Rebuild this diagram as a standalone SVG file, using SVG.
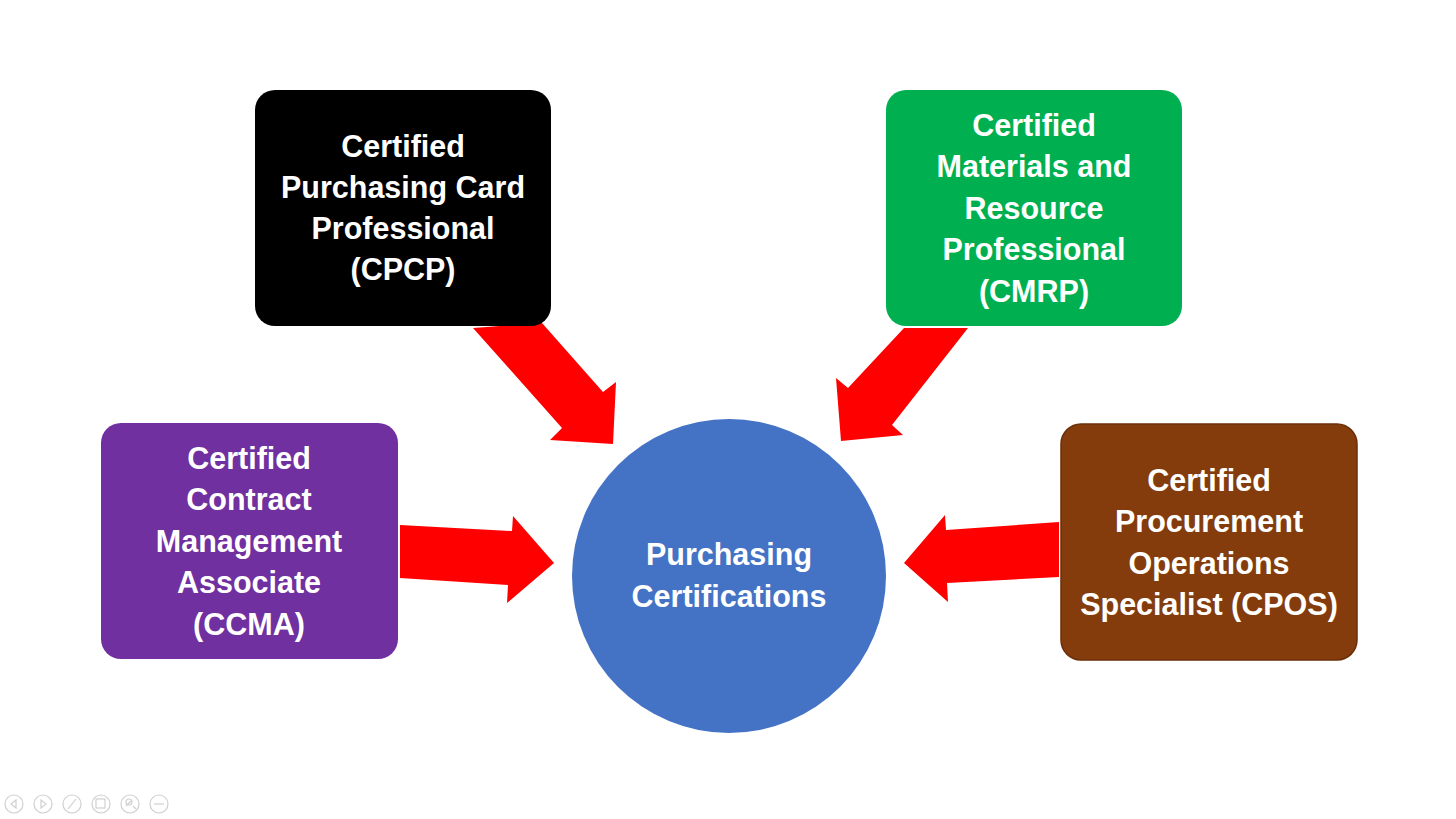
<svg xmlns="http://www.w3.org/2000/svg" width="1456" height="819" viewBox="0 0 1456 819">
<style>
.t{font-family:"Liberation Sans",Arial,sans-serif;font-weight:bold;font-size:30.5px;fill:#fff;text-anchor:middle}
.a{fill:#ff0000}
.c{fill:none;stroke:#d0d0d0;stroke-width:1.2}
</style>
<rect width="1456" height="819" fill="#fff"/>
<g id="connectors">
<polygon class="a" points="473,328 542,323 603,392 616,382 613,444 550,440 562,428"/>
<polygon class="a" points="968,328 904,328 848,388 836,378 841,441 903,435 892,425"/>
<polygon class="a" points="400,525 512,531 513,516 554,563 507,603 508,585 400,578"/>
<polygon class="a" points="1059,522 946,530 945,515 904,563 948,602 947,583 1059,577"/>
</g>
<g id="cpcp"><rect x="255" y="90" width="296" height="236" rx="20" fill="#000"/>
<text class="t" x="403" y="157">Certified</text><text class="t" x="403" y="198">Purchasing Card</text><text class="t" x="403" y="239">Professional</text><text class="t" x="403" y="280">(CPCP)</text></g>
<g id="cmrp"><rect x="886" y="90" width="296" height="236" rx="20" fill="#00b050"/>
<text class="t" x="1034" y="136">Certified</text><text class="t" x="1034" y="177">Materials and</text><text class="t" x="1034" y="219">Resource</text><text class="t" x="1034" y="260">Professional</text><text class="t" x="1034" y="302">(CMRP)</text></g>
<g id="ccma"><rect x="101" y="423" width="297" height="236" rx="20" fill="#7030a0"/>
<text class="t" x="249" y="469">Certified</text><text class="t" x="249" y="510">Contract</text><text class="t" x="249" y="552">Management</text><text class="t" x="249" y="593">Associate</text><text class="t" x="249" y="635">(CCMA)</text></g>
<g id="cpos"><rect x="1061" y="424" width="296" height="236" rx="20" fill="#843c0c" stroke="#6b2f08" stroke-width="1.5"/>
<text class="t" x="1209" y="491">Certified</text><text class="t" x="1209" y="532">Procurement</text><text class="t" x="1209" y="574">Operations</text><text class="t" x="1209" y="615">Specialist (CPOS)</text></g>
<g id="center"><circle cx="729" cy="576" r="157" fill="#4472c4"/>
<text class="t" x="729" y="565">Purchasing</text><text class="t" x="729" y="607">Certifications</text></g>
<g id="controls">
<circle class="c" cx="14" cy="804" r="9"/><circle class="c" cx="43" cy="804" r="9"/><circle class="c" cx="72" cy="804" r="9"/><circle class="c" cx="101" cy="804" r="9"/><circle class="c" cx="130" cy="804" r="9"/><circle class="c" cx="159" cy="804" r="9"/>
<path class="c" d="M16,800 L11,804 L16,808 Z M41,800 L46,804 L41,808 Z M68,809 L76,799 M126,806 L131,801 M133,806 L136,809"/>
<circle class="c" cx="129" cy="802" r="3"/>
<rect class="c" x="96" y="799" width="9" height="9"/>
<path class="c" d="M154,804 h10"/>
</g>
</svg>
